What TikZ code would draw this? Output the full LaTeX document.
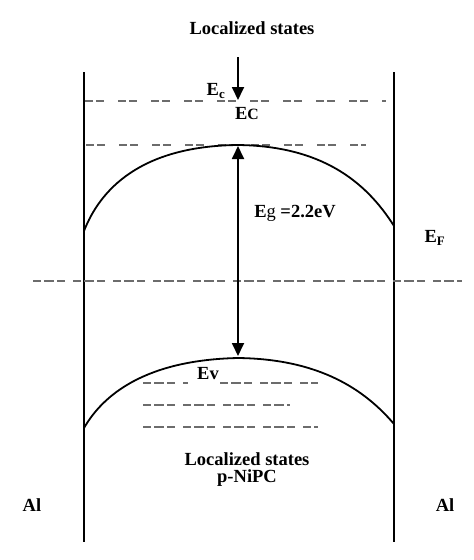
\documentclass[tikz,border=0pt]{standalone}
\usepackage{fontspec}
\setmainfont{Liberation Serif}
\usetikzlibrary{arrows.meta}
\begin{document}
\begin{tikzpicture}[x=1pt,y=-1pt,
  lbl/.style={font=\fontsize{18.5}{20}\selectfont\bfseries, inner sep=0pt},
  wall/.style={line width=1.8pt},
  band/.style={line width=1.8pt},
  lvl/.style={draw=gray!85!black, line width=1.4pt, dash pattern=on 8pt off 3pt on 8pt off 14pt},
  lvlb/.style={draw=gray!85!black, line width=1.4pt, dash pattern=on 8pt off 3pt on 10pt off 3pt on 8pt off 8pt},
  arr/.style={line width=1.8pt, -{Triangle[width=12pt,length=13pt]}},
  darr/.style={line width=1.8pt, {Triangle[width=12pt,length=13pt]}-{Triangle[width=12pt,length=13pt]}}]
\useasboundingbox (0,0) rectangle (474,560);
% walls
\coordinate (wlt) at (84,72); \coordinate (wlb) at (84,542);
\coordinate (wrt) at (394,72); \coordinate (wrb) at (394,542);
\draw[wall] (wlt) -- (wlb);
\draw[wall] (wrt) -- (wrb);
% dashed levels
\coordinate (l1a) at (85,101); \coordinate (l1b) at (386,101);
\draw[lvl] (l1a) -- (l1b);
\coordinate (l2a) at (86,145); \coordinate (l2b) at (366,145);
\draw[lvl] (l2a) -- (l2b);
\coordinate (fa) at (33,281); \coordinate (fb) at (462,281);
\draw[lvlb] (fa) -- (fb);
\coordinate (d1a) at (143,383); \coordinate (d1b) at (188,383);
\coordinate (d1c) at (220,383); \coordinate (d1d) at (318,383);
\draw[lvlb] (d1a) -- (d1b);
\draw[lvlb] (d1c) -- (d1d);
\coordinate (d2a) at (143,405); \coordinate (d2b) at (290,405);
\draw[lvlb] (d2a) -- (d2b);
\coordinate (d3a) at (143,427); \coordinate (d3b) at (318,427);
\draw[lvlb] (d3a) -- (d3b);
% bands
\coordinate (cl) at (84,231); \coordinate (ct) at (238,145); \coordinate (cr) at (394,226);
\draw[band] (cl) .. controls (100,190) and (140,146) .. (ct)
  .. controls (320,146) and (365,180) .. (cr);
\coordinate (vl) at (84,428); \coordinate (vt) at (238,358); \coordinate (vr) at (394,424);
\draw[band] (vl) .. controls (103,395) and (145,360) .. (vt)
  .. controls (320,359) and (365,390) .. (vr);
% arrows
\coordinate (a1s) at (238,57); \coordinate (a1e) at (238,100);
\draw[arr] (a1s) -- (a1e);
\coordinate (gt) at (238,146); \coordinate (gb) at (238,356);
\draw[darr] (gb) -- (gt);
% labels
\node[lbl] (title) at (252,28) {Localized states};
\node[lbl] (ec1) at (216,91) {E\textsubscript{c}};
\node[lbl] (ec2) at (247,114) {E\scalebox{0.85}{C}};
\node[lbl] (eg) at (295,213) {E\textmd{g} =2.2eV};
\node[lbl] (ef) at (435,238) {E\textsubscript{F}};
\node[lbl] (ev) at (208,374) {Ev};
\node[lbl] (loc) at (247,459) {Localized states};
\node[lbl] (pn) at (247,478) {p-NiPC};
\node[lbl] (al1) at (32,505) {Al};
\node[lbl] (al2) at (445,505) {Al};
\end{tikzpicture}
\end{document}
